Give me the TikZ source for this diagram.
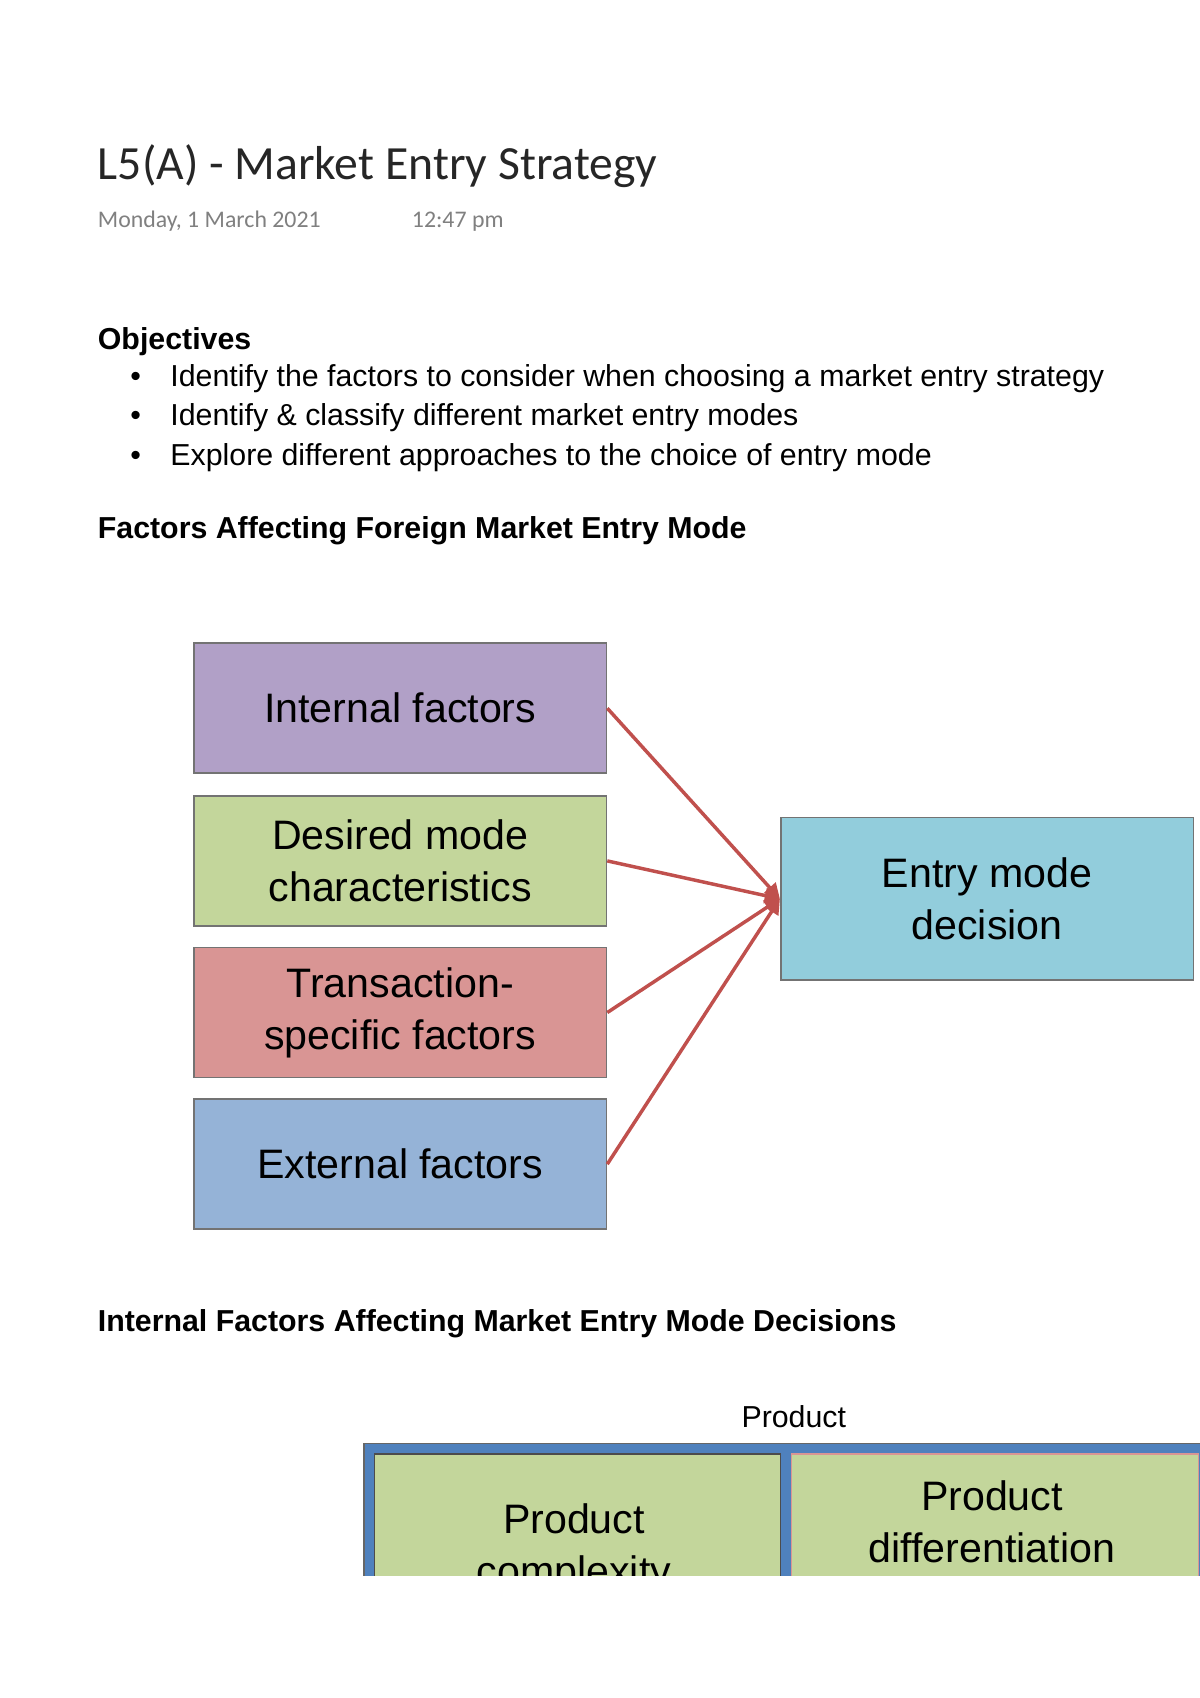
\documentclass[tikz,border=0pt]{standalone}
\usepackage{fontspec}
\setmainfont{Liberation Sans}
\newfontfamily\calfnt{Carlito}
\usetikzlibrary{arrows.meta}
\definecolor{purp}{HTML}{B1A0C7}
\definecolor{grn}{HTML}{C3D69B}
\definecolor{rosy}{HTML}{D99594}
\definecolor{blu}{HTML}{95B3D7}
\definecolor{cyan2}{HTML}{92CDDC}
\definecolor{arr}{HTML}{C0504D}
\definecolor{dblue}{HTML}{4F81BD}
\begin{document}
\begin{tikzpicture}[x=0.5pt,y=-0.5pt,
  fbox/.style={draw=black!55,line width=0.8pt,inner sep=0pt,font=\fontsize{19}{24}\selectfont,align=center},
  conn/.style={draw=arr,line width=1.6pt,-{Triangle[length=7pt,width=7pt]}}]
\useasboundingbox (0,0) rectangle (1108,1568);
\fill[white] (0,0) rectangle (1108,1568);
\node[anchor=base west,inner sep=0pt,font=\calfnt\fontsize{22}{26}\selectfont,text=black!85] (title) at (90,166) {L5(A) - Market Entry Strategy};
\node[anchor=base west,inner sep=0pt,font=\calfnt\fontsize{11}{13}\selectfont,text=black!50] (date) at (90,210) {Monday, 1 March 2021};
\node[anchor=base west,inner sep=0pt,font=\calfnt\fontsize{11}{13}\selectfont,text=black!50] (time) at (380,210) {12:47 pm};
\node[anchor=base west,inner sep=0pt,font=\bfseries\fontsize{14}{16}\selectfont] (obj) at (90,323) {Objectives};
\foreach \y/\t [count=\i] in {357/Identify the factors to consider when choosing a market entry strategy,393/Identify \& classify different market entry modes,430/Explore different approaches to the choice of entry mode}{
  \node[anchor=base west,inner sep=0pt,font=\fontsize{14}{16}\selectfont] (b\i) at (120,\y) {\textbullet};
  \node[anchor=base west,inner sep=0pt,font=\fontsize{14}{16}\selectfont] (o\i) at (157,\y) {\t};
}
\node[anchor=base west,inner sep=0pt,font=\bfseries\fontsize{14}{16}\selectfont] (h1) at (90,497) {Factors Affecting Foreign Market Entry Mode};
\node[fbox,fill=purp,minimum width=190.5pt,minimum height=60pt] (int) at (369.5,654) {Internal factors};
\node[fbox,fill=grn,minimum width=190.5pt,minimum height=60pt] (des) at (369.5,795) {Desired mode\\characteristics};
\node[fbox,fill=rosy,minimum width=190.5pt,minimum height=60pt] (tra) at (369.5,935) {Transaction-\\specific factors};
\node[fbox,fill=blu,minimum width=190.5pt,minimum height=60pt] (ext) at (369.5,1075) {External factors};
\node[fbox,fill=cyan2,minimum width=190.5pt,minimum height=75pt] (ent) at (911.5,830) {Entry mode\\decision};
\foreach \n in {int,des,tra,ext} \draw[conn] (\n.east) -- (ent.west);
\node[anchor=base west,inner sep=0pt,font=\bfseries\fontsize{14}{16}\selectfont] (h2) at (90,1230) {Internal Factors Affecting Market Entry Mode Decisions};
\node[inner sep=0pt,font=\fontsize{14}{16}\selectfont] (prod) at (733,1308) {Product};
\begin{scope}
\clip (0,1300) rectangle (1108,1455);
\fill[dblue] (336,1333) rectangle (1120,1600);
\draw[black!60,line width=0.6pt] (336,1600) -- (336,1333) -- (1120,1333);
\node[draw=black!70,fill=grn,line width=0.6pt,anchor=north west,minimum width=187.5pt,minimum height=150pt,inner sep=0pt] (pc) at (345,1342) {};
\node[draw=rosy,fill=grn,line width=0.6pt,anchor=north west,minimum width=188pt,minimum height=150pt,inner sep=0pt] (pd) at (730,1342) {};
\node[font=\fontsize{19}{24}\selectfont,align=center] (pct) at (530,1430) {Product\\complexity};
\node[font=\fontsize{19}{24}\selectfont,align=center] (pdt) at (916,1405) {Product\\differentiation};
\end{scope}
\end{tikzpicture}
\end{document}
